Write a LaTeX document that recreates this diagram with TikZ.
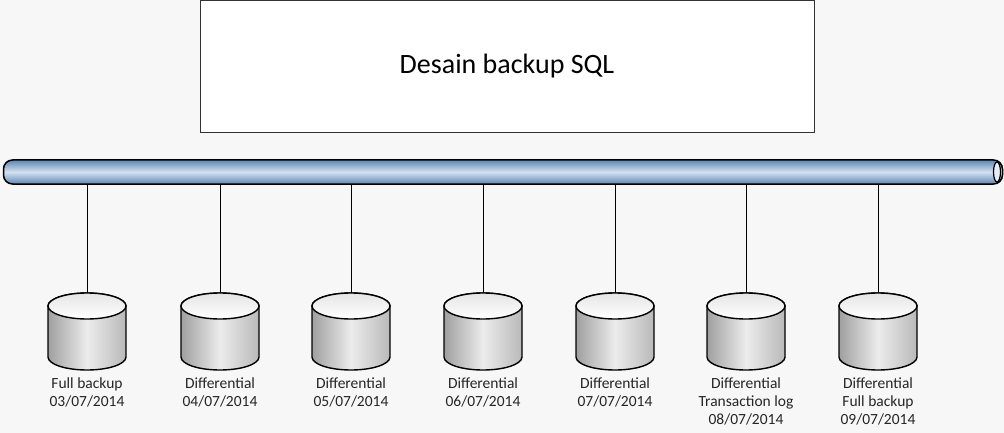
\documentclass[tikz,border=0pt]{standalone}
\usepackage{fontspec}
\setmainfont{Carlito}
\definecolor{bg}{HTML}{F7F7F7}
\definecolor{pipeA}{HTML}{5F86B3}
\definecolor{pipeB}{HTML}{D3E1F0}
\tikzset{
  dbline/.style={draw=black, line width=1.4pt},
  lbl/.style={font=\fontsize{15.5}{18}\selectfont, align=center, anchor=north, text=black!85},
  wire/.style={draw=black, line width=0.7pt}
}
\begin{document}
\begin{tikzpicture}[x=1pt,y=-1pt]
\useasboundingbox[fill=bg] (0,0) rectangle (1004,433);
\node[draw=black!80, line width=0.8pt, fill=white, minimum width=614pt, minimum height=132pt, inner sep=0pt,
  font=\fontsize{28}{32}\selectfont] (title) at (507,66) {Desain backup SQL};
\node[draw=black, line width=1.5pt, rounded corners=9pt, minimum width=999pt, minimum height=24pt, inner sep=0pt,
  top color=pipeA, bottom color=pipeA, middle color=pipeB] (pipe) at (503,172) {};
\draw[line width=1.2pt, fill=pipeB!60] (997,172) ellipse (3.5pt and 10pt);
\foreach \i/\x/\t in {1/87/{Full backup\\03/07/2014},2/220/{Differential\\04/07/2014},3/351/{Differential\\05/07/2014},
  4/483/{Differential\\06/07/2014},5/615/{Differential\\07/07/2014},6/746/{Differential\\Transaction log\\08/07/2014},
  7/878/{Differential\\Full backup\\09/07/2014}}{
  \coordinate (d\i) at (\x,293);
  \path[dbline, left color=gray!75, right color=gray!55, middle color=gray!15]
    (\x-39,306) -- (\x-39,357) arc[start angle=180, end angle=360, x radius=39, y radius=-13] -- (\x+39,306)
    arc[start angle=0, end angle=180, x radius=39, y radius=-13] -- cycle;
  \path[dbline, top color=gray!20, bottom color=white] (\x,306) ellipse[x radius=39, y radius=13];
  \coordinate (p\i) at (\x,184);
  \draw[wire] (p\i) -- (d\i);
  \node[lbl] (l\i) at (\x,374) {\t};
}
\end{tikzpicture}
\end{document}
